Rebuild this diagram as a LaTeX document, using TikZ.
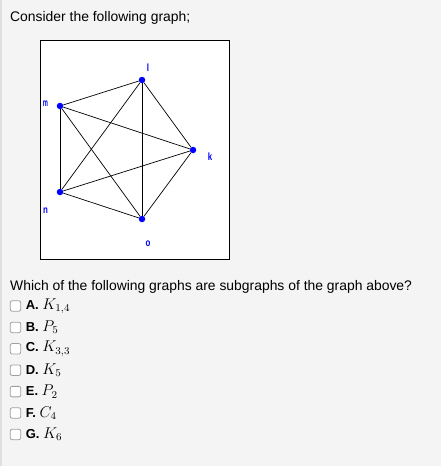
\documentclass[tikz,border=0pt]{standalone}
\usepackage{fontspec}
\setmainfont{Liberation Sans}
\usepackage{amsmath}
\usepackage{graphicx}
\usetikzlibrary{positioning}

\definecolor{pagebg}{RGB}{244,244,244}
\definecolor{dotblue}{RGB}{0,0,255}

\begin{document}
\begin{tikzpicture}[x=1pt,y=-1pt,
  vert/.style={circle,fill=dotblue,inner sep=0pt,minimum size=6.5pt},
  lbl/.style={text=dotblue,font=\fontsize{10.5}{10.5}\selectfont\bfseries,inner sep=0pt},
  cbox/.style={draw=gray!75,fill=white,rounded corners=2pt,minimum size=10.5pt,inner sep=0pt,line width=0.8pt},
  txt/.style={anchor=base west,inner sep=0pt,font=\fontsize{13.9}{16}\selectfont}]
  \useasboundingbox (0,0) rectangle (441,466);
  \fill[pagebg] (0,0) rectangle (441,466);
  \draw[gray!25,line width=1.5pt] (0.75,0) -- (0.75,466);
  \node[txt] (intro) at (10,21) {Consider the following graph;};
  \draw[fill=white,line width=1pt] (40,40) rectangle (229,259);
  % the five vertices
  \node[vert] (l) at (142,80) {};
  \node[vert] (k) at (193,150) {};
  \node[vert] (o) at (142,219) {};
  \node[vert] (n) at (60,192) {};
  \node[vert] (m) at (60,106) {};
  \node[lbl] (ll) at (148,68) {\scalebox{0.75}[1]{l}};
  \node[lbl] (lk) at (210,157) {\scalebox{0.75}[1]{k}};
  \node[lbl] (lo) at (148,244) {\scalebox{0.75}[1]{o}};
  \node[lbl] (ln) at (45.5,211) {\scalebox{0.75}[1]{n}};
  \node[lbl] (lm) at (45.5,104) {\scalebox{0.55}[1]{m}};
  \foreach \a/\b in {l/k,l/o,l/m,l/n,k/o,k/m,k/n,o/m,o/n,m/n}
    \draw[line width=0.7pt] (\a) -- (\b);
  \node[txt] (quest) at (10,290) {Which of the following graphs are subgraphs of the graph above?};
  % answer choices
  \foreach \lt/\gr [count=\i from 0] in {A/{K_{1,4}},B/{P_5},C/{K_{3,3}},D/{K_5},E/{P_2},F/{C_4},G/{K_6}}{
    \node[cbox] (cb\i) at (15.5,306+21.4*\i) {};
    \node[anchor=west,inner sep=0pt,right=4.5pt of cb\i] (opt\i)
      {\fontsize{13}{15}\selectfont\bfseries \lt. \fontsize{12}{14}\selectfont\scalebox{1.3}{$\gr$}};
  }
\end{tikzpicture}
\end{document}
